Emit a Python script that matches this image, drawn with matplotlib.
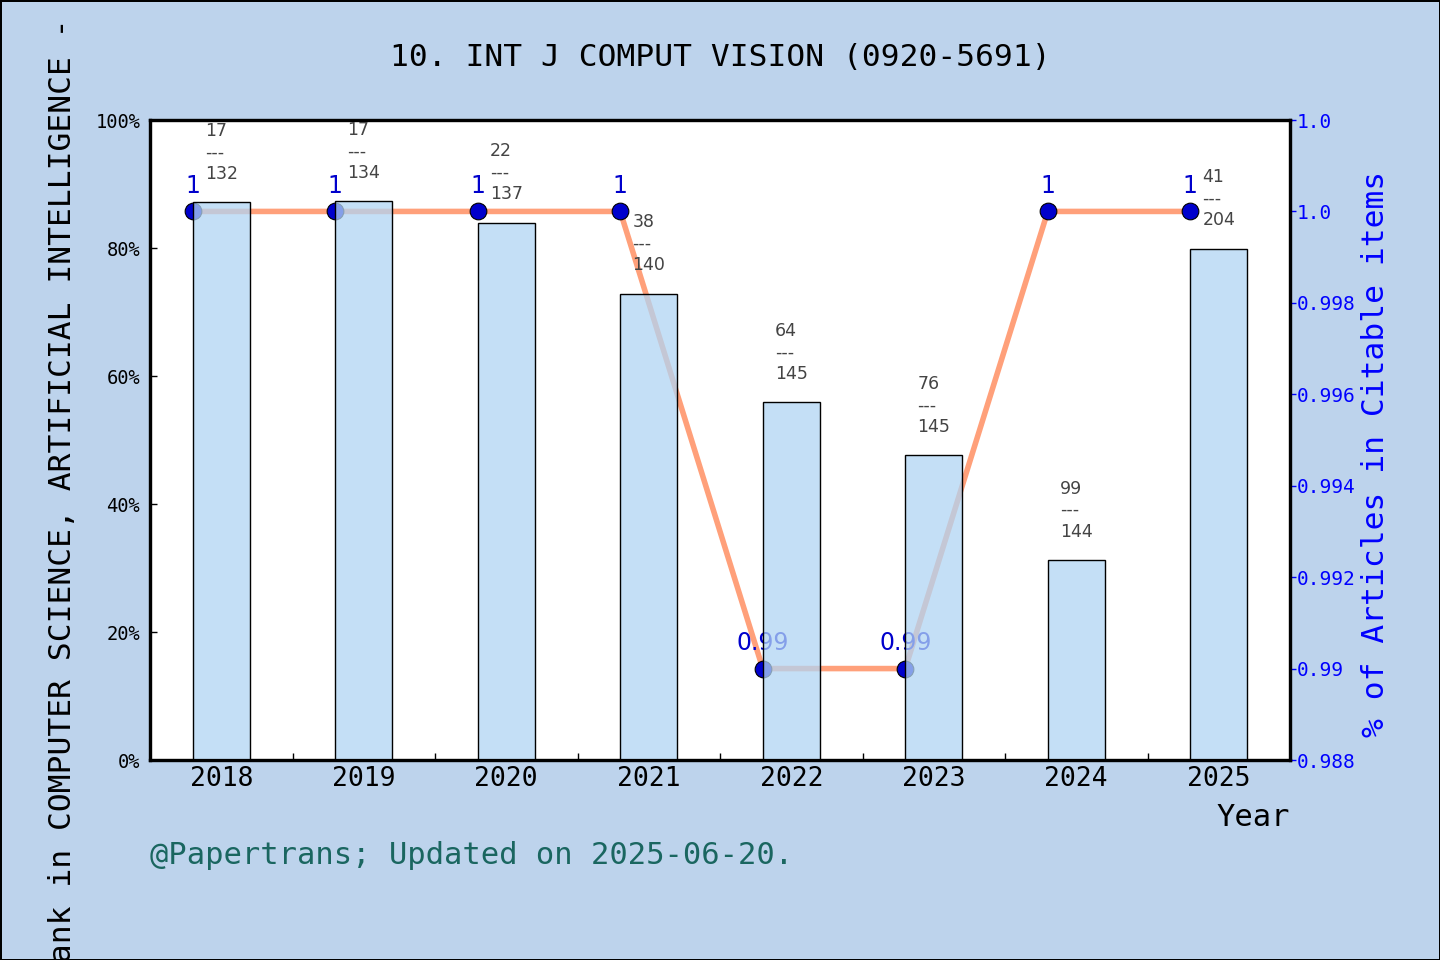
import matplotlib
matplotlib.use("Agg")
import matplotlib.pyplot as plt
import numpy as np

# journal data
years = ["2018", "2019", "2020", "2021", "2022", "2023", "2024", "2025"]
ranks = [17, 17, 22, 38, 64, 76, 99, 41]
totals = [132, 134, 137, 140, 145, 145, 144, 204]
citable = [1, 1, 1, 1, 0.99, 0.99, 1, 1]
citable_labels = ["1", "1", "1", "1", "0.99", "0.99", "1", "1"]

pct_ticks = [0, 0.2, 0.4, 0.6, 0.8, 1.0]
pct_labels = ["0%", "20%", "40%", "60%", "80%", "100%"]
right_ticks = [0.988, 0.990, 0.992, 0.994, 0.996, 0.998, 1.000, 1.002]
right_labels = ["0.988", "0.99", "0.992", "0.994", "0.996", "0.998", "1.0", "1.0"]

title = "10. INT J COMPUT VISION (0920-5691)"
left_label = "Rank in COMPUTER SCIENCE, ARTIFICIAL INTELLIGENCE -"
right_label = "% of Articles in Citable items"
note = "@Papertrans; Updated on 2025-06-20."

MONO = "DejaVu Sans Mono"
SANS = "DejaVu Sans"
BG = "#bdd3ec"
BAR = (0.694, 0.835, 0.957, 0.75)  # light blue, see-through so the line shows
LINE = "#ffa07a"
DOT = "#0000cc"

fig = plt.figure(figsize=(14.4, 9.6), dpi=100, facecolor=BG,
                 edgecolor="black", linewidth=2)
ax1 = fig.add_axes([150 / 1440, 200 / 960, 1140 / 1440, 640 / 960])
ax2 = ax1.twinx()

# bars above the line, so put ax1 on top with a transparent patch
ax1.set_zorder(ax2.get_zorder() + 1)
ax1.patch.set_visible(False)
ax2.patch.set_visible(True)
ax2.patch.set_facecolor("white")

x = np.arange(len(years))
heights = [1 - r / t for r, t in zip(ranks, totals)]

ax1.bar(x, heights, width=0.4, facecolor=BAR, edgecolor="black",
        linewidth=1, zorder=2)
for xi, h, r, t in zip(x, heights, ranks, totals):
    ax1.annotate(f"{r}\n---\n{t}", (xi, h), xytext=(0, 14),
                 textcoords="offset points", ha="center", va="bottom",
                 multialignment="left", fontsize=12.5, family=SANS,
                 color="#444444", linespacing=1.25, zorder=5,
                 annotation_clip=False)

ax1.set_xlim(-0.5, len(years) - 0.5)
ax1.set_ylim(0, 1)
ax1.set_xticks(x)
ax1.set_xticklabels(years, family=MONO, fontsize=19)
ax1.set_xticks(x[:-1] + 0.5, minor=True)
ax1.tick_params(axis="x", which="major", length=0, pad=4)
ax1.tick_params(axis="x", which="minor", direction="in", length=5, width=1)
ax1.set_yticks(pct_ticks)
ax1.set_yticklabels(pct_labels, family=MONO, fontsize=13.5)
ax1.tick_params(axis="y", direction="in", length=5, width=1, pad=7)

# citable items line, drawn at left edge of each bar
xl = x - 0.2
ax2.plot(xl, citable, color=LINE, linewidth=4, zorder=1)
ax2.plot(xl, citable, "o", color=DOT, markeredgecolor="black",
         markeredgewidth=0.8, markersize=12, zorder=2)
for xi, v, lab in zip(xl, citable, citable_labels):
    ax2.annotate(lab, (xi, v), xytext=(0, 10), textcoords="offset points",
                 ha="center", va="bottom", fontsize=17, family=SANS,
                 color=DOT, zorder=3)
ax2.set_ylim(0.988, 1.002)
ax2.set_yticks(right_ticks)
ax2.set_yticklabels(right_labels, family=MONO, fontsize=14, color="blue")
ax2.tick_params(axis="y", direction="out", length=4, width=1,
                color="blue", pad=1)

for a in (ax1, ax2):
    for s in a.spines.values():
        s.set_linewidth(2.3)
        s.set_color("black")

fig.text(720 / 1440, 1 - 57 / 960, title, ha="center", va="center",
         family=MONO, fontsize=22.5)
fig.text(63 / 1440, 1 - 500 / 960, left_label, rotation=90, ha="center",
         va="center", family=MONO, fontsize=22.5)
fig.text(1376 / 1440, 1 - 454 / 960, right_label, rotation=90, ha="center",
         va="center", family=MONO, fontsize=22.5, color="blue")
fig.text(1290 / 1440, 1 - 817 / 960, "Year", ha="right", va="center",
         family=MONO, fontsize=22)
fig.text(150 / 1440, 1 - 855 / 960, note, ha="left", va="center",
         family=MONO, fontsize=22, color="#1a6660")

fig.savefig("out.png", dpi=100, facecolor=BG, edgecolor="black")
